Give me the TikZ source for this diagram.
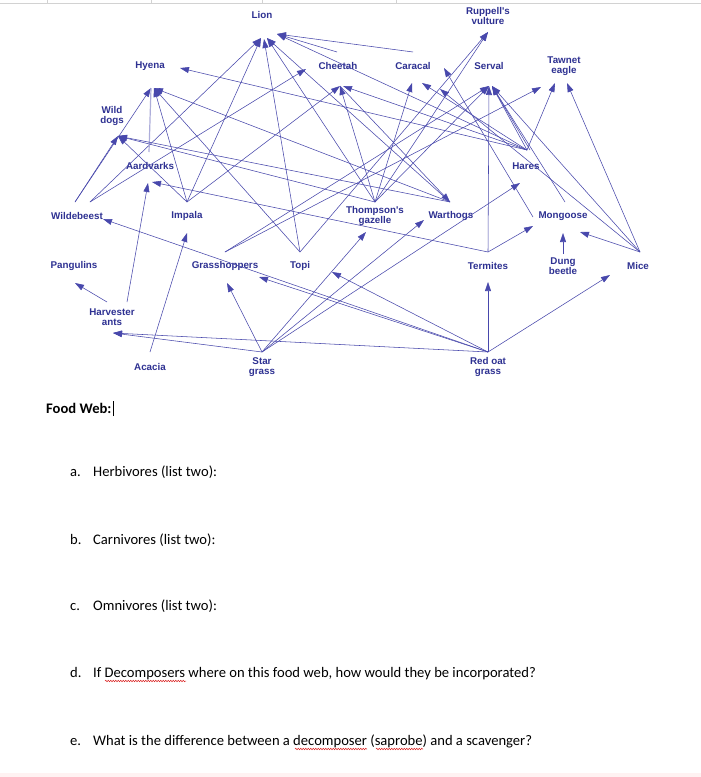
\documentclass[tikz,border=0pt]{standalone}
\usepackage{fontspec}
\setmainfont{Carlito}
\newfontfamily\labfont{Liberation Sans}
\usetikzlibrary{arrows.meta,decorations.pathmorphing}
\definecolor{lblue}{RGB}{46,49,146}
\definecolor{eblue}{RGB}{72,72,172}
\definecolor{sqred}{RGB}{220,40,40}
\begin{document}
\begin{tikzpicture}[x=1pt,y=-1pt,
  lab/.style={font=\labfont\bfseries\fontsize{9.8}{10.4}\selectfont, text=lblue, align=center, inner sep=0pt},
  edge/.style={draw=eblue, line width=0.55pt, -{Triangle[length=9pt,width=6pt]}, color=eblue, fill=none},
  qtext/.style={font=\fontsize{14.6}{17}\selectfont, anchor=base west, inner sep=0pt, text=black},
  squig/.style={draw=sqred, line width=0.5pt, decorate, decoration={snake, amplitude=0.8pt, segment length=2.5pt}}]
\useasboundingbox (0,0) rectangle (701,777);
\fill[white] (0,0) rectangle (701,777);
% top rule and bottom band
\draw[gray!35, line width=0.8pt] (0,3) -- (701,3);
\foreach \xx in {47,151,262,396} \draw[gray!35, line width=0.6pt] (\xx,0) -- (\xx,3);
\fill[red!5] (0,773) rectangle (701,777);

% ---------- labels ----------
\node[lab] (lion) at (262,15) {Lion};
\node[lab] (rup) at (488,16) {Ruppell\textquotesingle s\\vulture};
\node[lab] (hyena) at (150,66) {Hyena};
\node[lab] (cheetah) at (338,66) {Cheetah};
\node[lab] (caracal) at (413,66) {Caracal};
\node[lab] (serval) at (489,66) {Serval};
\node[lab] (tawnet) at (564,66) {Tawnet\\eagle};
\node[lab] (wild) at (112,116) {Wild\\dogs};
\node[lab] (aardvarks) at (150,166) {Aardvarks};
\node[lab] (haresl) at (526,166) {Hares};
\node[lab] (wildebeest) at (77,216) {Wildebeest};
\node[lab] (impala) at (187,216) {Impala};
\node[lab] (thompson) at (375,216) {Thompson\textquotesingle s\\gazelle};
\node[lab] (warthogs) at (451,216) {Warthogs};
\node[lab] (mongoose) at (563,216) {Mongoose};
\node[lab] (pangulins) at (74,266) {Pangulins};
\node[lab] (grasshoppers) at (225,266) {Grasshoppers};
\node[lab] (topil) at (300,266) {Topi};
\node[lab] (termites) at (488,266) {Termites};
\node[lab] (dungbeetle) at (563,266) {Dung\\beetle};
\node[lab] (micel) at (638,266) {Mice};
\node[lab] (harvester) at (112,317) {Harvester\\ants};
\node[lab] (acacial) at (150,367) {Acacia};
\node[lab] (stargrass) at (262,367) {Star\\grass};
\node[lab] (redoatgrass) at (488,367) {Red oat\\grass};

% ---------- anchor points (prey ends) ----------
\coordinate (wbA) at (75,202);
\coordinate (wbB) at (90,202);
\coordinate (imp) at (187,202);
\coordinate (tho) at (375,202);
\coordinate (wart) at (450,202);
\coordinate (topi) at (300,252);
\coordinate (grass) at (225,252);
\coordinate (term) at (488,252);
\coordinate (hares) at (527,150);
\coordinate (mice) at (640,252);
\coordinate (mongT) at (565,202);
\coordinate (mongL) at (533,217);
\coordinate (aard) at (149,152);
\coordinate (harvA) at (107,302);
\coordinate (harvB) at (127,302);
\coordinate (acacia) at (150,352);
\coordinate (star) at (262,352);
\coordinate (redoat) at (488,352);
\coordinate (dung) at (563,254);
\coordinate (cheT) at (337,52);
\coordinate (carT) at (413,52);

% ---------- arrow tips (predator ends) ----------
\coordinate (lionL) at (261,38);
\coordinate (lionH) at (264,39);
\coordinate (lionD) at (267,38);
\coordinate (lionR) at (277,34);
\coordinate (hyenaH) at (151,88);
\coordinate (hyenaD) at (154,88);
\coordinate (hyenaR) at (180,68);
\coordinate (wdH) at (118,136);
\coordinate (cheH) at (340,86);
\coordinate (cheD) at (343,86);
\coordinate (cheL) at (306,69);
\coordinate (car1) at (412,83);
\coordinate (car2) at (422,83);
\coordinate (car3) at (440,89);
\coordinate (car4) at (444,68);
\coordinate (serH) at (489,86);
\coordinate (serD) at (492,86);
\coordinate (rupH) at (488,32);
\coordinate (taw1) at (541,87);
\coordinate (taw2) at (555,83);
\coordinate (taw3) at (567,83);
\coordinate (aardT1) at (148,183);
\coordinate (aardT2) at (152,182);
\coordinate (pangT) at (75,283);
\coordinate (wbT) at (103,219);
\coordinate (impT) at (187,233);
\coordinate (grassT1) at (227,283);
\coordinate (grassT2) at (259,277);
\coordinate (topiT) at (332,272);
\coordinate (thoT) at (366,232);
\coordinate (wartT) at (424,220);
\coordinate (haresT) at (520,183);
\coordinate (termT) at (488,282);
\coordinate (mongT1) at (533,226);
\coordinate (mongT2) at (563,233);
\coordinate (mongT3) at (580,232);
\coordinate (miceT) at (610,275);
\coordinate (harvT) at (113,333);

% ---------- Lion ----------
\draw[edge] (wbB) -- (lionL);
\draw[edge] (imp) -- (lionL);
\draw[edge] (topi) -- (lionH);
\draw[edge] (tho) -- (lionD);
\draw[edge] (wart) -- (lionD);
\draw[edge] (hares) -- (lionR);
\draw[edge] (cheT) -- (lionR);
\draw[edge] (carT) -- (lionR);
% ---------- Hyena ----------
\draw[edge] (wbA) -- (hyenaH);
\draw[edge] (imp) -- (hyenaD);
\draw[edge] (topi) -- (hyenaD);
\draw[edge] (wart) -- (hyenaD);
\draw[eblue!45, line width=1.2pt] (aard) -- (hyenaH);
\draw[edge] (hares) -- (hyenaR);
% ---------- Wild dogs ----------
\draw[edge] (wbA) -- (wdH);
\draw[edge] (imp) -- (wdH);
\draw[edge] (tho) -- (wdH);
\draw[edge] (wart) -- (wdH);
% ---------- Cheetah ----------
\draw[edge] (imp) -- (cheH);
\draw[edge] (tho) -- (cheH);
\draw[edge] (hares) -- (cheD);
\draw[edge] (wbB) -- (cheL);
\draw[edge] (cheH) -- (wart);
% ---------- Caracal ----------
\draw[edge] (tho) -- (car1);
\draw[edge] (hares) -- (car2);
\draw[edge] (mice) -- (car3);
\draw[edge] (mongL) -- (car4);
% ---------- Serval ----------
\draw[edge] (term) -- (serH);
\draw[edge] (hares) -- (serD);
\draw[edge] ([xshift=3pt]hares) -- (serD);
\draw[edge] (mongT) -- (serD);
\draw[edge] (mice) -- (serD);
\draw[edge] (tho) -- (serH);
\draw[edge] (grass) -- (serH);
% ---------- Ruppell's vulture ----------
\draw[edge] (tho) -- (rupH);
\draw[edge] (topi) -- (rupH);
% ---------- Tawnet eagle ----------
\draw[edge] (grass) -- (taw1);
\draw[edge] (hares) -- (taw2);
\draw[edge] (mice) -- (taw3);
% ---------- lower web ----------
\draw[edge] (harvB) -- (aardT1);
\draw[edge] (term) -- (aardT2);
\draw[edge] (harvA) -- (pangT);
\draw[edge] (redoat) -- (wbT);
\draw[edge] (acacia) -- (impT);
\draw[edge] (star) -- (grassT1);
\draw[edge] (redoat) -- (grassT2);
\draw[edge] (redoat) -- (topiT);
\draw[edge] (star) -- (thoT);
\draw[edge] (star) -- (wartT);
\draw[edge] (star) -- (haresT);
\draw[edge] (redoat) -- (termT);
\draw[edge] (term) -- (mongT1);
\draw[edge] (dung) -- (mongT2);
\draw[edge] (mice) -- (mongT3);
\draw[edge] (redoat) -- (miceT);
\draw[edge] (star) -- (harvT);
\draw[edge] (redoat) -- (harvT);

% ---------- questions ----------
\node[qtext, font=\bfseries\fontsize{14.6}{17}\selectfont] (fw) at (46,413) {Food Web:};
\draw[black, line width=0.5pt] ([xshift=1.5pt]fw.base east) ++(0,3) -- ++(0,-15);
\node[qtext] (qa) at (70,476) {a.};
\node[qtext] (qat) at (93,476) {Herbivores (list two):};
\node[qtext] (qb) at (70,544) {b.};
\node[qtext] (qbt) at (93,544) {Carnivores (list two):};
\node[qtext] (qc) at (70,610) {c.};
\node[qtext] (qct) at (93,610) {Omnivores (list two):};
\node[qtext] (qd) at (70,677) {d.};
\node[qtext] (qdt) at (93,677) {If Decomposers where on this food web, how would they be incorporated?};
\node[qtext] (qe) at (70,745) {e.};
\node[qtext] (qet) at (93,745) {What is the difference between a decomposer (saprobe) and a scavenger?};
\draw[squig] (105,681) -- (186,681);
\draw[squig] (295,749) -- (367,749);
\draw[squig] (376,749) -- (423,749);
\end{tikzpicture}
\end{document}
